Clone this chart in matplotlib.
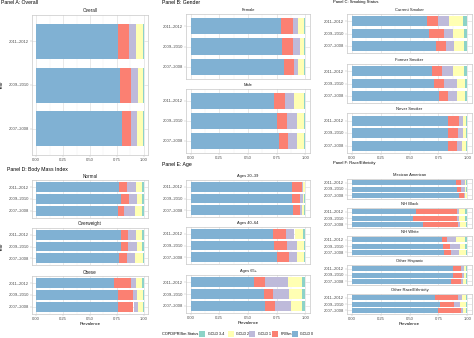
import matplotlib
matplotlib.use("Agg")
import matplotlib.pyplot as plt
from matplotlib.patches import Rectangle
import numpy as np

plt.rcParams['font.family'] = ['Liberation Sans', 'DejaVu Sans']

W, H = 474, 338

years = ["2007–2008", "2009–2010", "2011–2012"]
statuses = ["GOLD 0", "PRISm", "GOLD 1", "GOLD 2", "GOLD 3-4"]
colors = {"GOLD 0": "#80B1D3", "PRISm": "#FB8072", "GOLD 1": "#BEBADA",
          "GOLD 2": "#FFFFB3", "GOLD 3-4": "#8DD3C7"}
legend_order = ["GOLD 3-4", "GOLD 2", "GOLD 1", "PRISm", "GOLD 0"]

# values per facet: rows are years (2007-2008, 2009-2010, 2011-2012),
# columns are GOLD 0, PRISm, GOLD 1, GOLD 2, GOLD 3-4
overall = [[0.795, 0.090, 0.055, 0.050, 0.010],
           [0.780, 0.100, 0.065, 0.045, 0.010],
           [0.760, 0.105, 0.060, 0.065, 0.010]]
female = [[0.810, 0.090, 0.035, 0.055, 0.010],
          [0.800, 0.094, 0.055, 0.040, 0.011],
          [0.786, 0.108, 0.040, 0.052, 0.014]]
male = [[0.770, 0.080, 0.080, 0.062, 0.008],
        [0.750, 0.093, 0.086, 0.062, 0.009],
        [0.730, 0.090, 0.080, 0.086, 0.014]]
current_smoker = [[0.730, 0.085, 0.072, 0.088, 0.025],
                  [0.670, 0.124, 0.083, 0.097, 0.026],
                  [0.650, 0.093, 0.094, 0.126, 0.034]]
former_smoker = [[0.757, 0.077, 0.077, 0.069, 0.020],
                 [0.714, 0.080, 0.115, 0.071, 0.020],
                 [0.694, 0.086, 0.100, 0.094, 0.026]]
never_smoker = [[0.829, 0.085, 0.043, 0.029, 0.014],
                [0.829, 0.094, 0.043, 0.025, 0.009],
                [0.829, 0.100, 0.034, 0.025, 0.012]]
bmi_normal = [[0.765, 0.055, 0.100, 0.065, 0.015],
              [0.790, 0.070, 0.080, 0.045, 0.015],
              [0.774, 0.075, 0.076, 0.060, 0.015]]
bmi_overweight = [[0.774, 0.075, 0.070, 0.072, 0.009],
                  [0.790, 0.066, 0.085, 0.045, 0.014],
                  [0.790, 0.066, 0.070, 0.060, 0.014]]
bmi_obese = [[0.760, 0.145, 0.040, 0.045, 0.010],
             [0.760, 0.140, 0.040, 0.050, 0.010],
             [0.723, 0.163, 0.039, 0.060, 0.015]]
age_20_39 = [[0.894, 0.063, 0.017, 0.017, 0.009],
             [0.880, 0.077, 0.023, 0.012, 0.008],
             [0.880, 0.086, 0.015, 0.012, 0.007]]
age_40_64 = [[0.756, 0.100, 0.072, 0.058, 0.014],
             [0.727, 0.115, 0.086, 0.058, 0.014],
             [0.720, 0.115, 0.070, 0.075, 0.020]]
age_65 = [[0.650, 0.083, 0.138, 0.103, 0.026],
          [0.635, 0.086, 0.135, 0.115, 0.029],
          [0.555, 0.092, 0.200, 0.124, 0.029]]
mexican_american = [[0.925, 0.043, 0.015, 0.010, 0.007],
                    [0.911, 0.037, 0.029, 0.015, 0.008],
                    [0.905, 0.043, 0.029, 0.015, 0.008]]
nh_black = [[0.618, 0.302, 0.017, 0.049, 0.014],
            [0.532, 0.379, 0.014, 0.055, 0.020],
            [0.555, 0.356, 0.017, 0.050, 0.022]]
nh_white = [[0.796, 0.060, 0.072, 0.058, 0.014],
            [0.790, 0.058, 0.086, 0.046, 0.020],
            [0.782, 0.046, 0.077, 0.072, 0.023]]
other_hispanic = [[0.862, 0.086, 0.015, 0.023, 0.014],
                  [0.876, 0.078, 0.017, 0.020, 0.009],
                  [0.876, 0.072, 0.023, 0.015, 0.014]]
other_race = [[0.747, 0.201, 0.015, 0.023, 0.014],
              [0.761, 0.121, 0.052, 0.052, 0.014],
              [0.718, 0.202, 0.037, 0.034, 0.009]]

xticks = [0.0, 0.25, 0.5, 0.75, 1.0]
xticklabels = ["0.00", "0.25", "0.50", "0.75", "1.00"]

fig = plt.figure(figsize=(W / 100, H / 100), dpi=100)
fig.patch.set_facecolor("white")

TICK_FS = 3.0
LABEL_FS = 3.1


def rect(left, top, right, bottom):
    return [left / W, 1 - bottom / H, (right - left) / W, (bottom - top) / H]


def facet(left, right, top, bottom, name, data, strip_fs, show_x=False, xlabel=False):
    ax = fig.add_axes(rect(left, top, right, bottom))
    vals = np.array(data)
    y = np.arange(len(years))
    cum = np.zeros(len(years))
    for j, s in enumerate(statuses):
        ax.barh(y, vals[:, j], left=cum, height=0.8, color=colors[s],
                edgecolor="none", zorder=2)
        cum += vals[:, j]
    ax.set_xlim(-0.04, 1.04)
    ax.set_ylim(-0.6, 2.6)
    ax.set_yticks(y)
    ax.set_yticklabels(years, fontsize=TICK_FS, color="#4d4d4d")
    ax.set_xticks(xticks)
    ax.set_xticks([0.125, 0.375, 0.625, 0.875], minor=True)
    ax.grid(True, which="major", color="#e0e0e0", linewidth=0.5, zorder=0)
    ax.grid(True, which="minor", axis="x", color="#f0f0f0", linewidth=0.3, zorder=0)
    ax.set_axisbelow(True)
    for sp in ax.spines.values():
        sp.set_color("#c8c8c8")
        sp.set_linewidth(0.5)
    ax.tick_params(axis="both", which="both", length=1.2, width=0.3,
                   color="#b3b3b3", pad=1)
    ax.tick_params(axis="x", which="minor", length=0)
    if show_x:
        ax.set_xticklabels(xticklabels, fontsize=TICK_FS, color="#4d4d4d")
    else:
        ax.set_xticklabels([])
        ax.tick_params(axis="x", which="major", length=0)
    if xlabel:
        ax.set_xlabel("Prevalence", fontsize=LABEL_FS, labelpad=1)
    fig.text((left + right) / 2 / W, 1 - (top - 4) / H, name,
             fontsize=strip_fs, ha="center", va="center", color="#1a1a1a")
    return ax


def title(x, y, s, fs):
    fig.text(x / W, 1 - y / H, s, fontsize=fs, ha="left", va="center")


# Column 1
c1l, c1r = 32, 148
s1 = 3.35
title(1, 2.5, "Panel A: Overall", 3.7)
facet(c1l, c1r, 15, 155, "Overall", overall, s1, show_x=True)
title(7, 169, "Panel D: Body Mass Index", 3.7)
facet(c1l, c1r, 180, 218, "Normal", bmi_normal, s1)
facet(c1l, c1r, 228, 265, "Overweight", bmi_overweight, s1)
facet(c1l, c1r, 276, 314, "Obese", bmi_obese, s1, show_x=True, xlabel=True)
fig.text(1.5 / W, 1 - 85 / H, "Year", fontsize=LABEL_FS, rotation=90,
         ha="center", va="center")
fig.text(1.5 / W, 1 - 247 / H, "Year", fontsize=LABEL_FS, rotation=90,
         ha="center", va="center")

# Column 2
c2l, c2r = 186, 310
s2 = 2.9
title(162, 2.5, "Panel B: Gender", 3.7)
facet(c2l, c2r, 14, 79, "Female", female, s2)
facet(c2l, c2r, 89, 153, "Male", male, s2, show_x=True)
title(162, 165, "Panel E: Age", 3.7)
facet(c2l, c2r, 180, 217, "Ages 20–39", age_20_39, s2)
facet(c2l, c2r, 227, 264, "Ages 40–64", age_40_64, s2)
facet(c2l, c2r, 275, 313, "Ages 65+", age_65, s2, show_x=True, xlabel=True)

# Column 3
c3l, c3r = 347, 472
s3 = 2.95
title(333, 2.5, "Panel C: Smoking Status", 2.95)
facet(c3l, c3r, 14, 53, "Current Smoker", current_smoker, s3)
facet(c3l, c3r, 64, 103, "Former Smoker", former_smoker, s3)
facet(c3l, c3r, 113, 153, "Never Smoker", never_smoker, s3, show_x=True)
title(333, 163, "Panel F: Race/Ethnicity", 2.95)
facet(c3l, c3r, 179, 199, "Mexican American", mexican_american, s3)
facet(c3l, c3r, 208, 228, "NH Black", nh_black, s3)
facet(c3l, c3r, 236, 256, "NH White", nh_white, s3)
facet(c3l, c3r, 265, 285, "Other Hispanic", other_hispanic, s3)
facet(c3l, c3r, 294, 314, "Other Race/Ethnicity", other_race, s3, show_x=True, xlabel=True)

# Legend
ly = 334
fig.text(162 / W, 1 - ly / H, "COPD/PRISm Status", fontsize=2.8,
         ha="left", va="center")
sw_x = [199, 228, 249, 272, 292]
for s, sx in zip(legend_order, sw_x):
    fig.patches.append(Rectangle((sx / W, 1 - (ly + 3) / H), 6 / W, 6 / H,
                                 transform=fig.transFigure, facecolor=colors[s],
                                 edgecolor="none"))
    fig.text((sx + 8.5) / W, 1 - ly / H, s, fontsize=2.6, ha="left", va="center")

fig.savefig("out.png", dpi=100)
